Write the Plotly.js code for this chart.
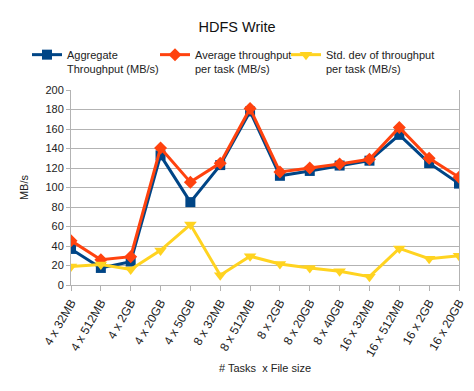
<!DOCTYPE html>
<html>
<head>
<meta charset="utf-8">
<script src="https://cdn.plot.ly/plotly-3.0.1.min.js"></script>
<style>html,body{margin:0;padding:0;background:#fff;}#chart{width:474px;height:391px;}</style>
</head>
<body>
<div id="chart"></div>
<script>
const categories = ["4 x 32MB","4 x 512MB","4 x 2GB","4 x 20GB","4 x 50GB","8 x 32MB","8 x 512MB","8 x 2GB","8 x 20GB","8 x 40GB","16 x 32MB","16 x 512MB","16 x 2GB","16 x 20GB"];
const aggregateThroughput = [37, 17.5, 24, 133, 85, 123, 178, 112, 117, 122.5, 127.5, 154, 125, 104];
const avgThroughputPerTask = [45.5, 26, 29, 140.5, 105.5, 125, 181, 116, 120, 124, 129, 161.5, 130, 110.5];
const stdDevThroughput = [19, 21, 16, 35.5, 62, 10, 29.5, 21.5, 17.5, 14, 8.5, 37.5, 27, 30];
const seriesNames = ["Aggregate<br>Throughput (MB/s)", "Average throughput<br>per task (MB/s)", "Std. dev of throughput<br>per task (MB/s)"];

const font = "Liberation Sans, Arial, sans-serif";
function tr(y, name, color, symbol, size, leg) {
  return {x: categories, y: y, name: name, type: 'scatter', mode: 'lines+markers', legend: leg,
    line: {color: color, width: 3}, marker: {color: color, symbol: symbol, size: size}};
}
const data = [
  tr(aggregateThroughput, seriesNames[0], '#004586', 'square', 10, 'legend'),
  tr(avgThroughputPerTask, seriesNames[1], '#ff420e', 'diamond', 10, 'legend2'),
  tr(stdDevThroughput, seriesNames[2], '#ffd320', 'triangle-down', 11, 'legend3')
];
// plot area: left 71, width 388, top 90, height 195
function leg(xpx) {
  return {orientation: 'v', xref: 'paper', yref: 'paper', x: (xpx - 71)/388, xanchor: 'left', y: 1 + (90 - 41)/195, yanchor: 'top',
    valign: 'top', font: {size: 11, family: font, color: '#222'}, itemwidth: 30, bgcolor: 'rgba(0,0,0,0)', borderwidth: 0};
}
const layout = {
  width: 474, height: 391,
  margin: {l: 71, r: 15, t: 90, b: 106},
  paper_bgcolor: '#fff', plot_bgcolor: '#fff',
  font: {family: font, size: 11, color: '#222'},
  title: {text: 'HDFS Write', x: 0.5, xref: 'container', y: 1 - 27/391, yref: 'container', yanchor: 'middle', font: {size: 14.5, family: font, color: '#111'}},
  showlegend: true,
  legend: leg(27), legend2: leg(155), legend3: leg(286),
  xaxis: {type: 'category', tickangle: -60, showgrid: false, showline: true, linecolor: '#b3b3b3', linewidth: 1,
    ticks: 'outside', ticklen: 5, tickcolor: '#b3b3b3', range: [0, 13], mirror: false,
    tickfont: {size: 12, family: font}, automargin: false,
    title: {text: '# Tasks  x File size', font: {size: 11, family: font}, standoff: 5}},
  yaxis: {range: [0, 200], dtick: 20, showgrid: true, gridcolor: '#b3b3b3', gridwidth: 1, showline: true, linecolor: '#b3b3b3',
    ticks: 'outside', ticklen: 4, tickcolor: '#b3b3b3', zeroline: false, mirror: true,
    tickfont: {size: 11, family: font}, automargin: false,
    title: {text: 'MB/s', font: {size: 11, family: font}, standoff: 14}}
};
Plotly.newPlot('chart', data, layout, {displayModeBar: false, staticPlot: true});
</script>
</body>
</html>
